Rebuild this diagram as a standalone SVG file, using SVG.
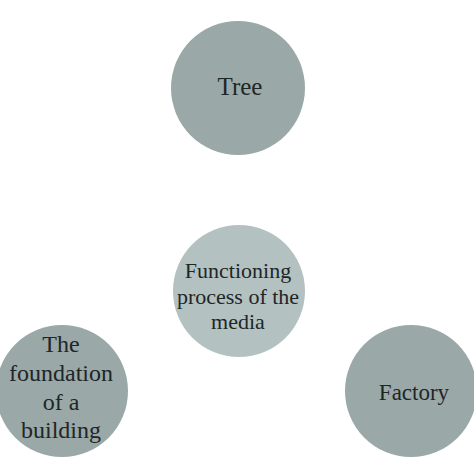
<svg xmlns="http://www.w3.org/2000/svg" width="474" height="474" viewBox="0 0 474 474">
<style>
.outer{fill:#9aa8a8}
.inner{fill:#b4c1c1}
text{font-family:"Liberation Serif","Times New Roman",serif;fill:#1e2626;text-anchor:middle}
</style>
<rect width="474" height="474" fill="#ffffff"/>
<g id="connectors"></g>
<g id="tree">
<circle class="outer" cx="238" cy="88" r="67"/>
<text x="240" y="95" font-size="25">Tree</text>
</g>
<g id="center">
<circle class="inner" cx="239" cy="291" r="66"/>
<text x="238" y="278" font-size="22">Functioning</text>
<text x="238" y="304" font-size="22">process of the</text>
<text x="238" y="329" font-size="22">media</text>
</g>
<g id="foundation">
<circle class="outer" cx="62" cy="391" r="66"/>
<text x="61" y="352" font-size="24">The</text>
<text x="61" y="381" font-size="24">foundation</text>
<text x="61" y="410" font-size="24">of a</text>
<text x="61" y="438" font-size="24">building</text>
</g>
<g id="factory">
<circle class="outer" cx="411" cy="391" r="66"/>
<text x="414" y="400" font-size="23">Factory</text>
</g>
</svg>
